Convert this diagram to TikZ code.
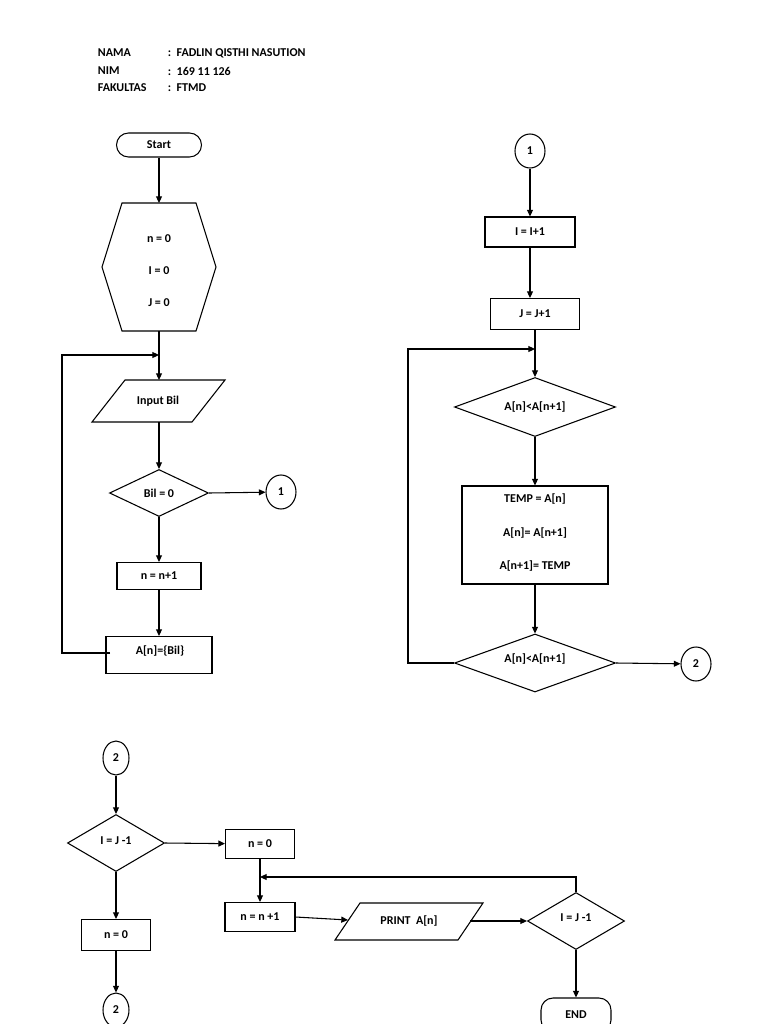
\documentclass[tikz,border=0pt]{standalone}
\usepackage{fontspec}
\setmainfont{Carlito}
\usetikzlibrary{shapes.geometric,arrows.meta}
\begin{document}
\begin{tikzpicture}[x=0.75pt,y=-0.75pt,
  font=\bfseries\fontsize{9}{10}\selectfont,
  line width=0.8pt,
  box/.style={draw,rectangle,minimum width=#1*0.75pt,inner sep=0pt},
  arr/.style={-{Triangle[length=5pt,width=4.5pt]}},
  conn/.style={draw,ellipse,minimum width=30*0.75pt,minimum height=34*0.75pt,inner sep=0pt}]
\useasboundingbox (0,0) rectangle (768,1024);
% header
\node[anchor=west] (h1) at (93,53) {NAMA};
\node[anchor=west] (h1c) at (163,53) {:\ \ FADLIN QISTHI NASUTION};
\node[anchor=west] (h2) at (93,71) {NIM};
\node[anchor=west] (h2c) at (163,71) {:\ \ 169 11 126};
\node[anchor=west] (h3) at (93,88) {FAKULTAS};
\node[anchor=west] (h3c) at (163,88) {:\ \ FTMD};
% left column
\node[draw,rounded corners=12*0.75pt,minimum width=85*0.75pt,minimum height=24*0.75pt] (start) at (159,145) {Start};
\draw (122,203) -- (196,203) -- (216,267) -- (196,331) -- (122,331) -- (102,267) -- cycle;
\coordinate (hexT) at (159,203);
\coordinate (hexB) at (159,331);
\node (t1) at (159,239) {n = 0};
\node (t2) at (159,271) {I = 0};
\node (t3) at (159,303) {J = 0};
\draw[arr] (start) -- (hexT);
\coordinate (j1) at (159,355);
\draw (125,380) -- (225,380) -- (192,422) -- (92,422) -- cycle;
\coordinate (inT) at (159,380);
\coordinate (inB) at (159,422);
\node (input) at (158,401) {Input Bil};
\draw[arr] (hexB) -- (inT);
\node[draw,diamond,aspect=2.1,minimum width=99*0.75pt,minimum height=47*0.75pt,inner sep=0pt] (d1) at (159,493) {Bil = 0};
\draw[arr] (inB) -- (d1.north);
\node[conn] (c1a) at (281,492) {1};
\draw[arr] (d1.east) -- (c1a);
\node[box=84,minimum height=27*0.75pt] (inc) at (159,576) {n = n+1};
\draw[arr] (d1.south) -- (inc);
\node[box=106,minimum height=37*0.75pt] (arr1) at (159,655) {};
\node (arrt) at (160,651) {A[n]=\{Bil\}};
\draw[arr] (inc) -- (arr1);
\coordinate (lp1) at (110,653);
\draw[arr] (lp1) -- (62,653) -- (62,355) -- (j1);
% right column
\node[conn] (c1b) at (530,151) {1};
\node[box=90,minimum height=30*0.75pt] (ii) at (530,232) {I = I+1};
\node[box=89,minimum height=31*0.75pt] (jj) at (535,314) {J = J+1};
\draw[arr] (c1b) -- (ii);
\draw[arr] (ii.south) -- (530,298);
\node[draw,diamond,aspect=2.7,minimum width=161*0.75pt,minimum height=59*0.75pt,inner sep=0pt] (d2) at (535,407) {A[n]<A[n+1]};
\draw[arr] (jj.south) -- (d2.north);
\node[box=146,minimum height=98*0.75pt] (swap) at (535,535) {};
\node (s1) at (535,499) {TEMP = A[n]};
\node (s2) at (535,533) {A[n]= A[n+1]};
\node (s3) at (535,566) {A[n+1]= TEMP};
\draw[arr] (d2.south) -- (swap);
\node[draw,diamond,aspect=2.75,minimum width=161*0.75pt,minimum height=58*0.75pt,inner sep=0pt] (d3) at (535,663) {};
\node (d3t) at (535,659) {A[n]<A[n+1]};
\draw[arr] (swap) -- (d3.north);
\node[conn] (c2a) at (696,664) {2};
\draw[arr] (d3.east) -- (c2a);
\draw[arr] (d3.west) -- (408,663) -- (408,349) -- (535,349);
% bottom
\node[conn,minimum width=26*0.75pt] (c2b) at (116,758) {2};
\node[draw,diamond,aspect=1.7,minimum width=97*0.75pt,minimum height=57*0.75pt,inner sep=0pt] (d4) at (116,843) {};
\node (d4t) at (116,841) {I = J -1};
\draw[arr] (c2b) -- (d4.north);
\node[box=69,minimum height=29*0.75pt] (n0a) at (260,844) {n = 0};
\draw[arr] (d4.east) -- (n0a);
\node[box=69,minimum height=31*0.75pt] (n0b) at (116,935) {n = 0};
\draw[arr] (d4.south) -- (n0b);
\node[conn,minimum width=26*0.75pt] (c2c) at (116,1010) {2};
\draw[arr] (n0b) -- (c2c);
\node[box=70,minimum height=29*0.75pt] (nn) at (260,917) {n = n +1};
\draw[arr] (n0a.south) -- (nn.north);
\draw (360,903) -- (483,903) -- (458,940) -- (335,940) -- cycle;
\coordinate (prL) at (348,920);
\coordinate (prR) at (470,921);
\node (pr) at (409,921) {PRINT\ \ A[n]};
\draw[arr] (nn.east) -- (prL);
\node[draw,diamond,aspect=1.7,minimum width=97*0.75pt,minimum height=57*0.75pt,inner sep=0pt] (d5) at (576,921) {};
\node (d5t) at (576,918) {I = J -1};
\draw[arr] (prR) -- (d5.west);
\draw[arr] (d5.north) -- (576,877) -- (260,877);
\node[draw,rounded corners=12*0.75pt,minimum width=70*0.75pt,minimum height=34*0.75pt] (end) at (576,1015) {END};
\draw[arr] (d5.south) -- (end);
\end{tikzpicture}
\end{document}
